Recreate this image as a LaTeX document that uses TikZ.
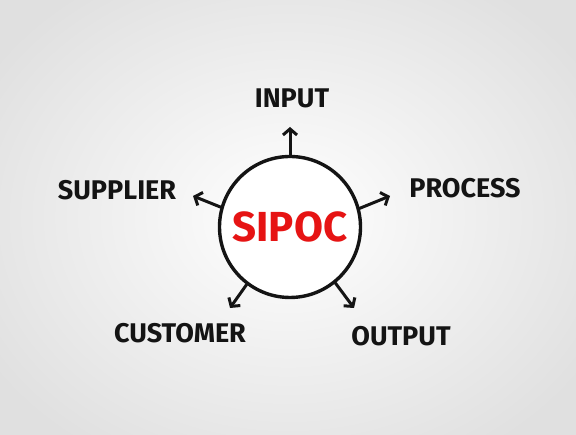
\documentclass[tikz,border=0pt]{standalone}
\usepackage{fontspec}
\setmainfont{Fira Sans}
\usepackage{tikz}
\usetikzlibrary{arrows.meta}
\usetikzlibrary{positioning}
\definecolor{sipocred}{RGB}{230,20,20}
\definecolor{ink}{RGB}{20,20,20}
\tikzset{
	hubnode/.style={circle, draw=ink, fill=white, line width=3.4pt, minimum size=141pt, inner sep=0pt},
	wordnode/.style={text=ink, font=\bfseries\fontsize{27}{27}\selectfont, inner sep=0pt},
	spoke/.style={draw=ink, line width=3pt, line cap=round, -{Straight Barb[length=6pt,width=14pt,line width=3pt]}}
}

\begin{document}
\begin{tikzpicture}[x=1pt,y=1pt]
		\useasboundingbox (0,0) rectangle (576,435);
		\shade[inner color=white, outer color=black!12] (-60,-60) rectangle (636,495);
		\node[hubnode] at (290,208) (sipoc) {\textcolor{sipocred}{\bfseries\fontsize{42}{42}\selectfont SIPOC}};
		\node[wordnode] at (292,337) (input)    {INPUT};
		\node[wordnode] at (117,245) (supplier) {SUPPLIER};
		\node[wordnode] at (465,247) (process)  {PROCESS};
		\node[wordnode] at (180,102) (customer) {CUSTOMER};
		\node[wordnode] at (401,99)  (output)   {OUTPUT};
		\coordinate (tipI) at (290,308);
		\coordinate (tipS) at (193,239);
		\coordinate (tipP) at (390,239);
		\coordinate (tipC) at (230,127);
		\coordinate (tipO) at (354,127);
		\draw[spoke] (sipoc.90) -- (tipI);
		\draw[spoke] (sipoc.164) -- (tipS);
		\draw[spoke] (sipoc.15) -- (tipP);
		\draw[spoke] (sipoc.-127) -- (tipC);
		\draw[spoke] (sipoc.-51) -- (tipO);
	\end{tikzpicture}
\end{document}
